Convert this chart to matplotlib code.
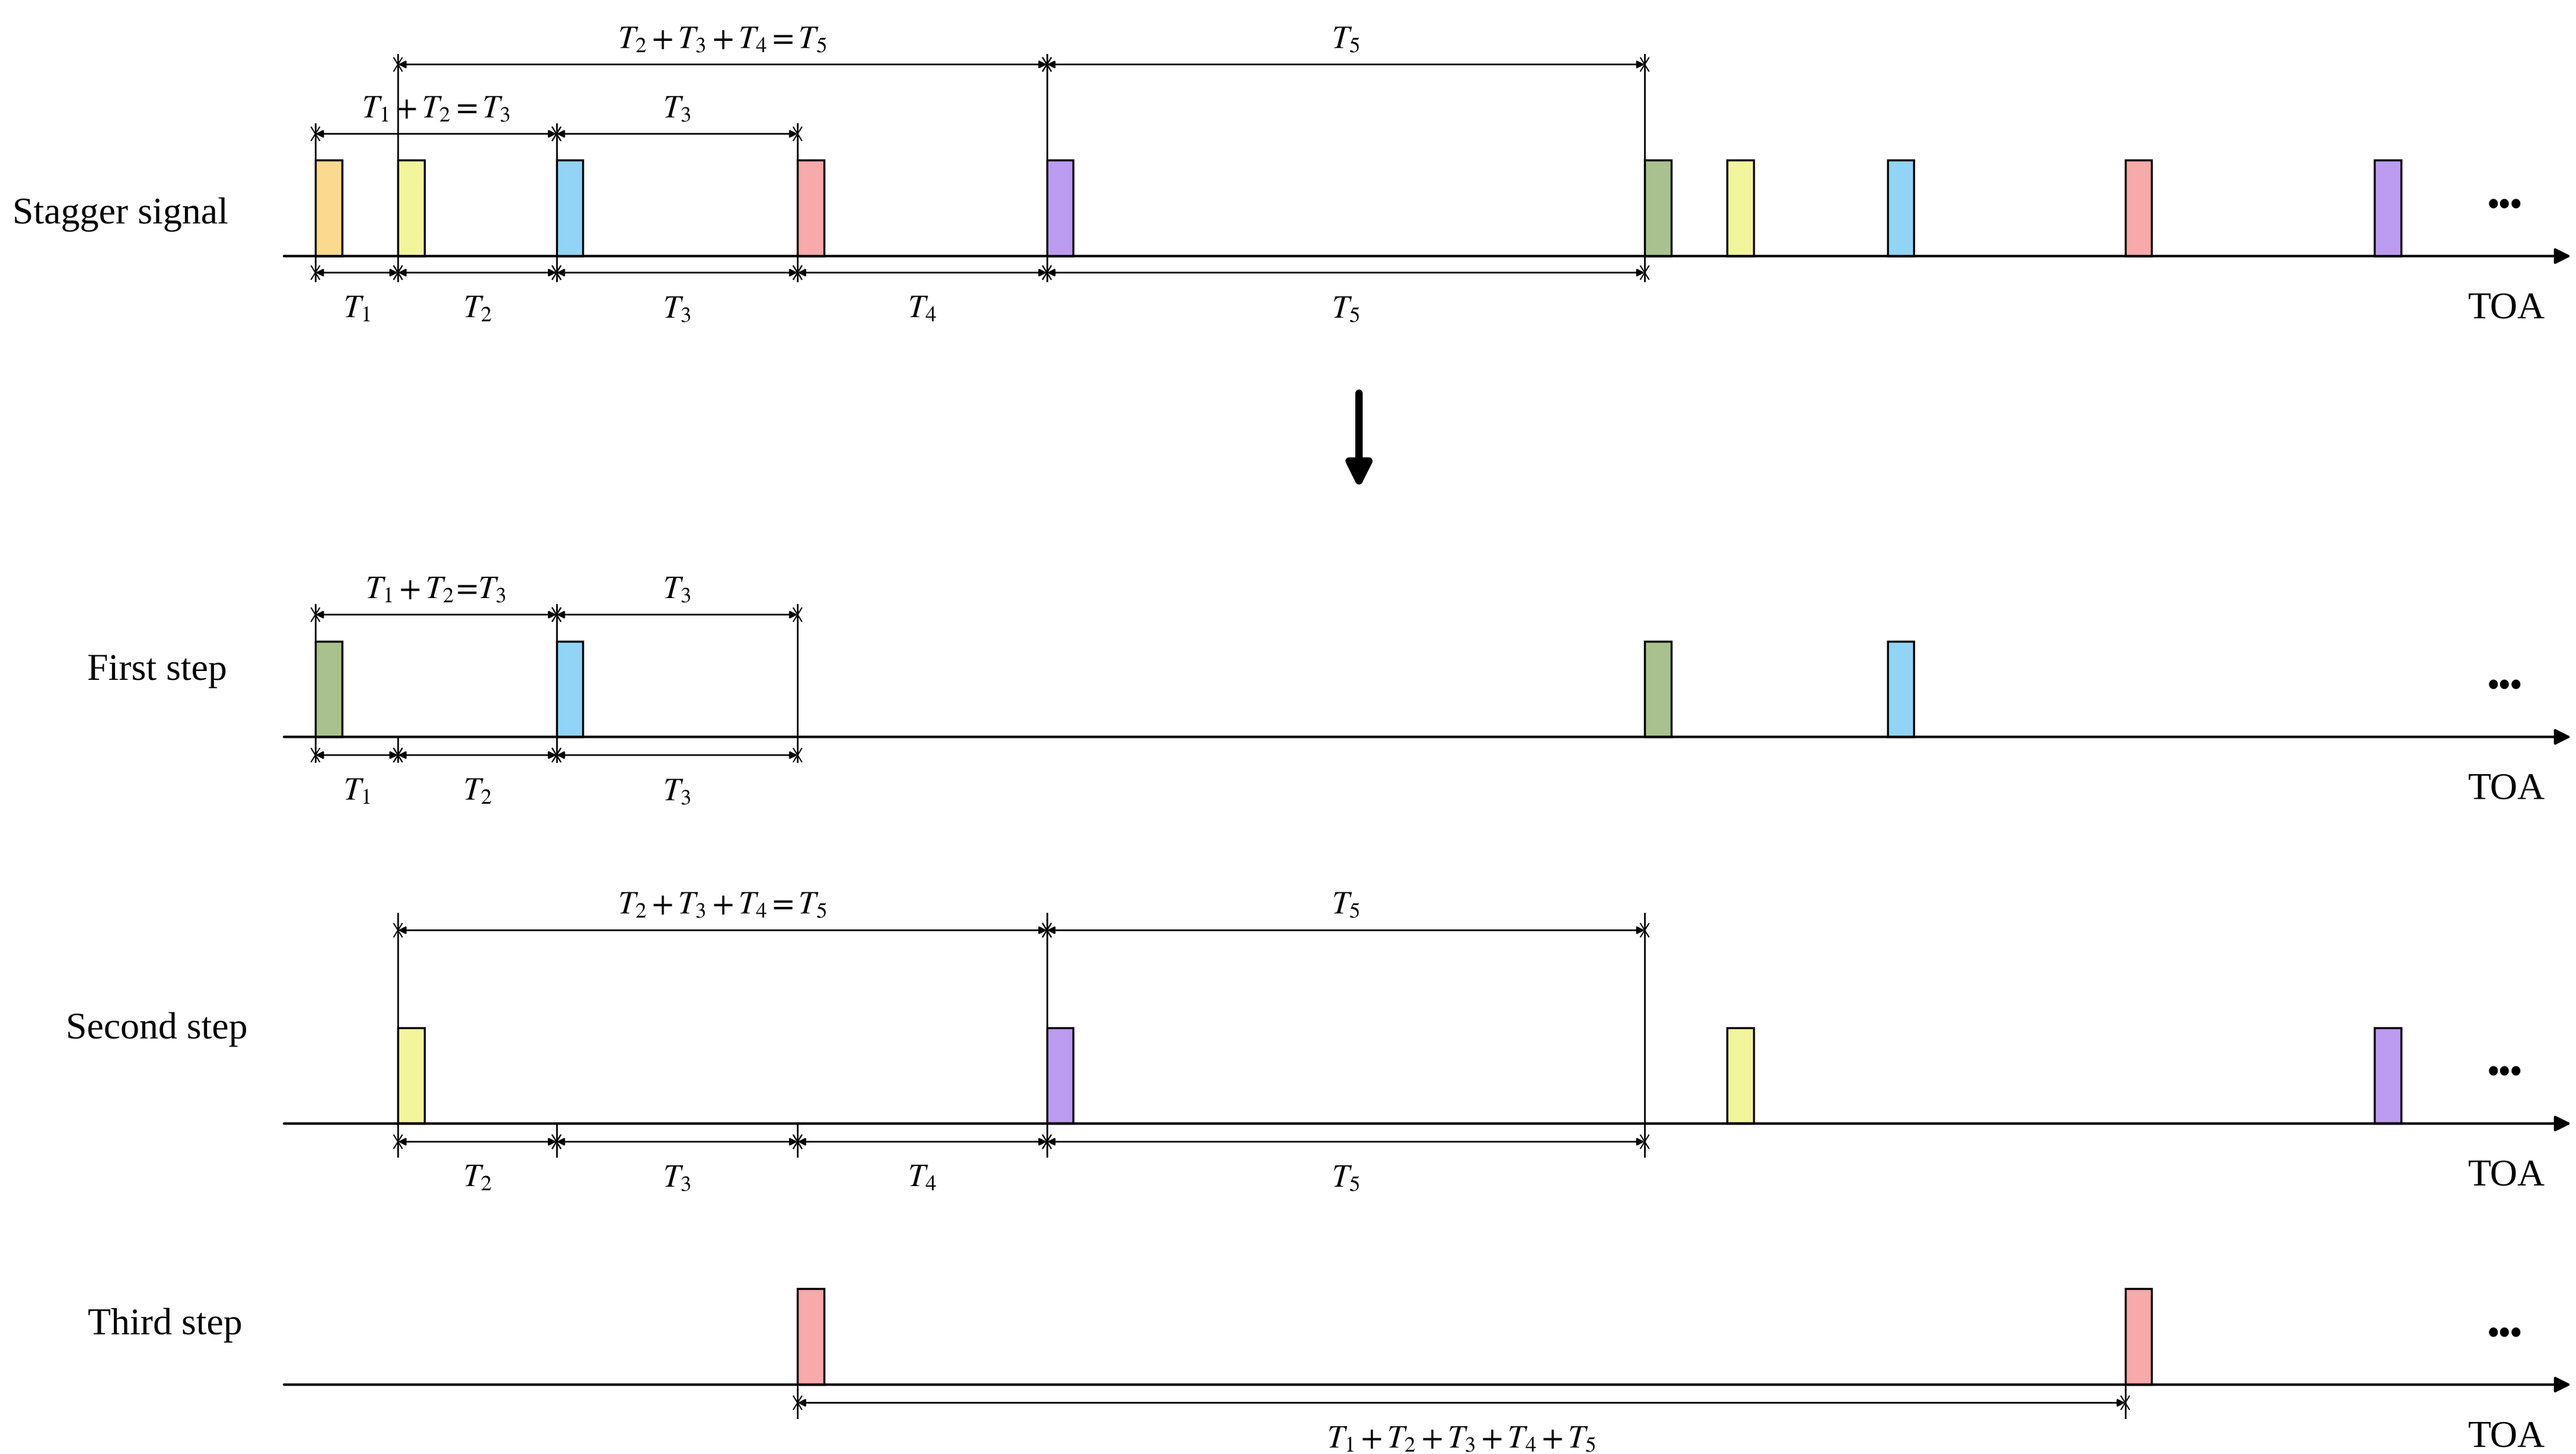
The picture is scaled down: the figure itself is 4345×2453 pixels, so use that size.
import matplotlib.pyplot as plt
from matplotlib.patches import Rectangle

plt.rcParams['font.family'] = ['Liberation Serif', 'DejaVu Serif']
plt.rcParams['mathtext.fontset'] = 'stix'

# pulse arrival positions (TOA units) and colours for each row
stagger_toa = [191, 241, 337, 483, 634, 996, 1046, 1143, 1287, 1438]
stagger_col = ['#FBD98E', '#F3F59C', '#92D4F5', '#F8A9A9', '#BC9CF0',
               '#A9C28D', '#F3F59C', '#92D4F5', '#F8A9A9', '#BC9CF0']
first_toa = [191, 337, 996, 1143]
first_col = ['#A9C28D', '#92D4F5', '#A9C28D', '#92D4F5']
second_toa = [241, 634, 1046, 1438]
second_col = ['#F3F59C', '#BC9CF0', '#F3F59C', '#BC9CF0']
third_toa = [483, 1287]
third_col = ['#F8A9A9', '#F8A9A9']

row_names = ['Stagger signal', 'First step', 'Second step', 'Third step']
row_y = [155, 446, 680, 838]

fig = plt.figure(figsize=(43.45, 24.53), dpi=100)
ax = fig.add_axes([0, 0, 1, 1])
ax.set_xlim(0, 1560)
ax.set_ylim(880, 0)
ax.axis('off')

PW, PH = 16, 58
LFS, TFS = 46, 38


def pulses(toa, cols, y):
    for x, c in zip(toa, cols):
        ax.add_patch(Rectangle((x, y - PH), PW, PH, fc=c, ec='black', lw=2.5))


def dim(x0, x1, y, label, above=True, fs=TFS):
    ax.annotate('', xy=(x0, y), xytext=(x1, y),
                arrowprops=dict(arrowstyle='<|-|>', lw=2, color='black',
                                mutation_scale=18, shrinkA=0, shrinkB=0))
    for x in (x0, x1):
        ax.plot([x - 2.5, x + 2.5], [y - 4, y + 4], color='black', lw=1.5)
        ax.plot([x - 2.5, x + 2.5], [y + 4, y - 4], color='black', lw=1.5)
    ty = y - 6 if above else y + 14
    ax.text((x0 + x1) / 2, ty, label, ha='center',
            va='bottom' if above else 'top', fontsize=fs)


def vline(x, y0, y1):
    ax.plot([x, x], [y0, y1], color='black', lw=2)


def axis_row(i):
    y = row_y[i]
    ax.annotate('', xy=(1557, y), xytext=(172, y),
                arrowprops=dict(arrowstyle='-|>', lw=3, color='black',
                                mutation_scale=40, shrinkA=0, shrinkB=0))
    ax.text(1518, y + 32, 'TOA', ha='center', va='center', fontsize=LFS)
    ax.text(1517, y - 30, '•••', ha='center', va='center', fontsize=40,
            fontweight='bold')


# row 0: stagger signal
y = row_y[0]
pulses(stagger_toa, stagger_col, y)
axis_row(0)
ax.text(73, 130, row_names[0], ha='center', va='center', fontsize=LFS)
for x in stagger_toa[:6]:
    vline(x, y + 15, y - 80 if x not in (241, 634, 996) else y - 122)
vline(483, y - 80, y)
bt = ['$T_1$', '$T_2$', '$T_3$', '$T_4$', '$T_5$']
for k in range(5):
    dim(stagger_toa[k], stagger_toa[k + 1], y + 10, bt[k], above=False)
dim(191, 337, 81, '$T_1+T_2=T_3$')
dim(337, 483, 81, '$T_3$')
dim(241, 634, 39, '$T_2+T_3+T_4=T_5$')
dim(634, 996, 39, '$T_5$')

# arrow down
ax.annotate('', xy=(823, 296), xytext=(823, 238),
            arrowprops=dict(arrowstyle='-|>', lw=9, color='black',
                            mutation_scale=60, shrinkA=0, shrinkB=0))

# row 1: first step
y = row_y[1]
pulses(first_toa, first_col, y)
axis_row(1)
ax.text(95, 406, row_names[1], ha='center', va='center', fontsize=LFS)
vline(191, y - 80, y + 15)
vline(241, y, y + 15)
vline(337, y - 80, y + 15)
vline(483, y - 80, y + 15)
dim(191, 241, y + 11, '$T_1$', above=False)
dim(241, 337, y + 11, '$T_2$', above=False)
dim(337, 483, y + 11, '$T_3$', above=False)
dim(191, 337, 372, '$T_1+T_2\\!=\\!T_3$')
dim(337, 483, 372, '$T_3$')

# row 2: second step
y = row_y[2]
pulses(second_toa, second_col, y)
axis_row(2)
ax.text(95, 623, row_names[2], ha='center', va='center', fontsize=LFS)
for x in (241, 634, 996):
    vline(x, 553, y + 20)
for x in (337, 483):
    vline(x, y, y + 20)
dim(241, 337, y + 11, '$T_2$', above=False)
dim(337, 483, y + 11, '$T_3$', above=False)
dim(483, 634, y + 11, '$T_4$', above=False)
dim(634, 996, y + 11, '$T_5$', above=False)
dim(241, 634, 563, '$T_2+T_3+T_4=T_5$')
dim(634, 996, 563, '$T_5$')

# row 3: third step
y = row_y[3]
pulses(third_toa, third_col, y)
axis_row(3)
ax.text(100, 802, row_names[3], ha='center', va='center', fontsize=LFS)
vline(483, y - 10, y + 20)
vline(1287, y - 10, y + 20)
dim(483, 1287, y + 11, '$T_1+T_2+T_3+T_4+T_5$', above=False)

fig.savefig('out.png', dpi=100)
